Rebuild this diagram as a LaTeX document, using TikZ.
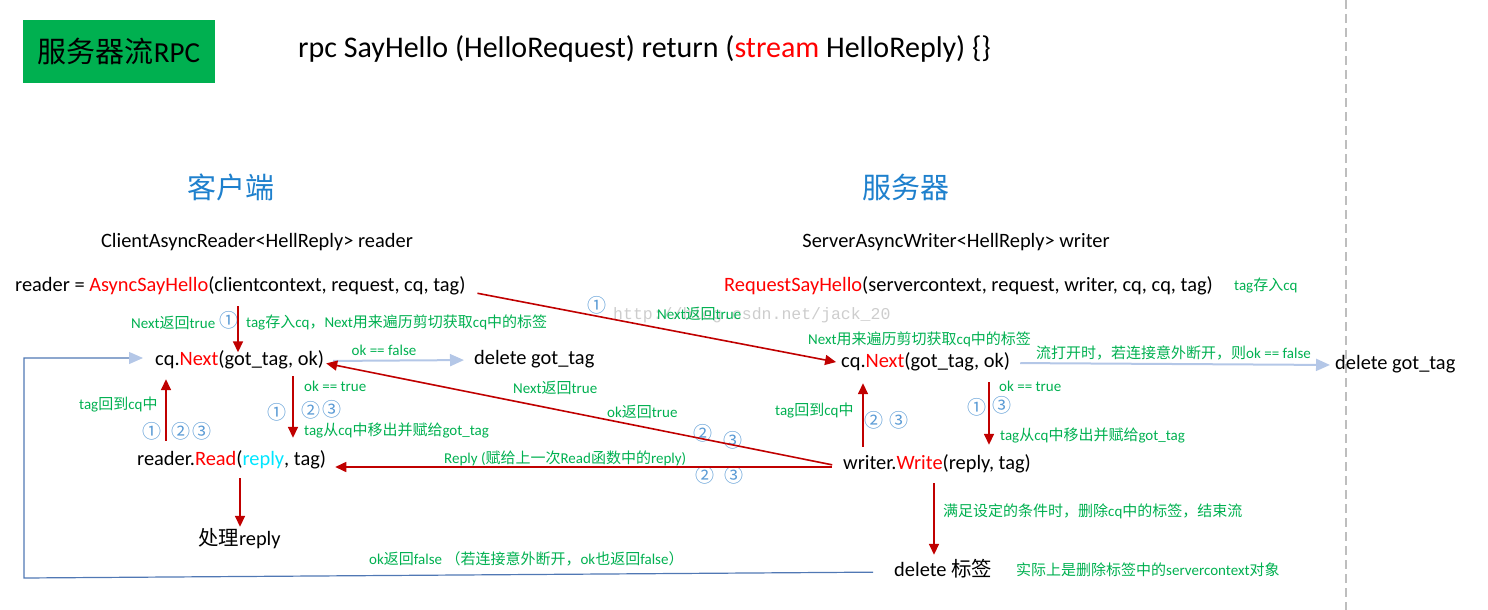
\documentclass[tikz,border=0pt]{standalone}
\usepackage{fontspec}
\setmainfont{Carlito}
\newfontfamily\cjk{Noto Sans CJK SC}
\newfontfamily\wmfont{Liberation Mono}
\usetikzlibrary{arrows.meta}
\XeTeXinterchartokenstate=1
\newXeTeXintercharclass\CJKcls
\makeatletter
\def\setcjkrange#1#2{\count@=#1\relax\loop\XeTeXcharclass\count@=\CJKcls\relax\ifnum\count@<#2\relax\advance\count@ by 1\relax\repeat}
\makeatother
\setcjkrange{"3000}{"303F}
\setcjkrange{"4E00}{"9FFF}
\setcjkrange{"FF00}{"FFEF}
\setcjkrange{"2460}{"24FF}
\XeTeXinterchartoks 0 \CJKcls = {\begingroup\cjk}
\XeTeXinterchartoks 4095 \CJKcls = {\begingroup\cjk}
\XeTeXinterchartoks \CJKcls 0 = {\endgroup}
\XeTeXinterchartoks \CJKcls 4095 = {\endgroup}
\definecolor{boxgreen}{RGB}{0,176,80}
\definecolor{tgreen}{RGB}{0,176,80}
\definecolor{darkred}{RGB}{192,0,0}
\definecolor{tred}{RGB}{255,0,0}
\definecolor{tcyan}{RGB}{0,230,255}
\definecolor{headblue}{RGB}{30,128,205}
\definecolor{circblue}{RGB}{91,155,213}
\definecolor{lightarr}{RGB}{180,199,231}
\definecolor{loopcol}{RGB}{80,120,180}
\definecolor{dashgray}{RGB}{190,190,190}
\definecolor{wmgray}{RGB}{205,205,205}
\tikzset{
  main/.style={inner sep=0pt, anchor=west, font=\fontsize{20.4}{24}\selectfont, text height=14pt, text depth=5pt},
  gtxt/.style={inner sep=0pt, anchor=west, text=tgreen, font=\fontsize{15}{18}\selectfont, text height=11pt, text depth=4pt},
  circnum/.style={inner sep=0pt, text=circblue, font=\cjk\fontsize{19}{22}\selectfont},
  heading/.style={inner sep=0pt, text=headblue, font=\fontsize{29}{32}\selectfont},
  ra/.style={draw=darkred, line width=1.6pt, -{Triangle[length=11pt,width=10pt,fill=darkred]}},
  ba/.style={draw=lightarr, line width=2pt, -{Triangle[length=14pt,width=12pt,fill=lightarr]}},
  loopline/.style={draw=loopcol, line width=1.2pt, -{Triangle[length=14pt,width=12pt,color=lightarr,fill=lightarr]}},
  dashline/.style={draw=dashgray, line width=1.5pt, dash pattern=on 9pt off 5pt},
}
\begin{document}
\begin{tikzpicture}[x=1pt,y=-1pt]
\useasboundingbox (0,0) rectangle (1488,610);
% divider
\draw[dashline] (1346,0) -- (1346,610);
% title
\node[fill=boxgreen, minimum width=192pt, minimum height=63pt, inner sep=0pt, font=\fontsize{29}{32}\selectfont] (ttl) at (119,51.5) {服务器流RPC};
\node[main, font=\fontsize{30}{34}\selectfont, text height=21pt, text depth=8pt] (rpc) at (298,51) {rpc SayHello (HelloRequest) return (\textcolor{tred}{stream} HelloReply) \{\}};
% headings
\node[heading] (hc) at (231,187) {客户端};
\node[heading] (hs) at (906,187) {服务器};
\node[main, anchor=center] (cr) at (257,243) {ClientAsyncReader<HellReply> reader};
\node[main, anchor=center] (sw) at (956,243) {ServerAsyncWriter<HellReply> writer};
% watermark
\node[inner sep=0pt, anchor=west, text=wmgray, font=\wmfont\fontsize{16.5}{18}\selectfont] (wm) at (613,315) {http://blog.csdn.net/jack\_20};
% client side
\node[main] (rd) at (15,287) {reader = \textcolor{tred}{AsyncSayHello}(clientcontext, request, cq, tag)};
\node[gtxt] (l1) at (131,325) {Next返回true};
\node[circnum] (n1) at (229,320) {①};
\node[gtxt] (l2) at (246,324) {tag存入cq，Next用来遍历剪切获取cq中的标签};
\node[main] (cqL) at (155,361) {cq.\textcolor{tred}{Next}(got\_tag, ok)};
\node[gtxt, anchor=center] (l3) at (384,352) {ok == false};
\node[main] (delL) at (474,360) {delete got\_tag};
\node[gtxt] (l4) at (304,388) {ok == true};
\node[circnum] (n2) at (277,412) {①};
\node[circnum] (n3) at (311,410) {②};
\node[circnum] (n4) at (332,409) {③};
\node[gtxt] (l5) at (304,432) {tag从cq中移出并赋给got\_tag};
\node[gtxt] (l6) at (79,406) {tag回到cq中};
\node[circnum] (n5) at (152,431) {①};
\node[circnum] (n6) at (181,431) {②};
\node[circnum] (n7) at (202,431) {③};
\node[main] (readL) at (137,461) {reader.\textcolor{tred}{Read}(\textcolor{tcyan}{reply}, tag)};
\node[main] (proc) at (198,541) {处理reply};
% middle labels
\node[circnum] (n8) at (597,305) {①};
\node[gtxt] (l7) at (657,316) {Next返回true};
\node[gtxt] (l8) at (513,390) {Next返回true};
\node[gtxt] (l9) at (607,414) {ok返回true};
\node[circnum] (n9) at (703,433) {②};
\node[circnum] (n10) at (733,440) {③};
\node[gtxt] (l10) at (444,460) {Reply (赋给上一次Read函数中的reply)};
\node[circnum] (n11) at (705,475) {②};
\node[circnum] (n12) at (734,475) {③};
\node[gtxt] (l11) at (369,561) {ok返回false （若连接意外断开，ok也返回false）};
% server side
\node[main] (rq) at (724,287) {\textcolor{tred}{RequestSayHello}(servercontext, request, writer, cq, cq, tag)};
\node[gtxt] (l12) at (1234,287) {tag存入cq};
\node[gtxt] (l13) at (808,341) {Next用来遍历剪切获取cq中的标签};
\node[main] (cqR) at (841,363) {cq.\textcolor{tred}{Next}(got\_tag, ok)};
\node[gtxt] (l14) at (1036,355) {流打开时，若连接意外断开，则ok == false};
\node[main] (delR) at (1335,365) {delete got\_tag};
\node[gtxt] (l15) at (775,412) {tag回到cq中};
\node[circnum] (n13) at (874,420) {②};
\node[circnum] (n14) at (899,420) {③};
\node[gtxt] (l16) at (999,388) {ok == true};
\node[circnum] (n15) at (977,407) {①};
\node[circnum] (n16) at (1002,405) {③};
\node[gtxt] (l17) at (1000,437) {tag从cq中移出并赋给got\_tag};
\node[main] (write) at (843,465) {writer.\textcolor{tred}{Write}(reply, tag)};
\node[gtxt] (l18) at (943,513) {满足设定的条件时，删除cq中的标签，结束流};
\node[main] (deltag) at (894,572) {delete 标签};
\node[gtxt] (l19) at (1016,572) {实际上是删除标签中的servercontext对象};
% loop back
\coordinate (lp1) at (24,578);
\coordinate (lp2) at (24,358);
\draw[loopline, shorten <=21pt, shorten >=12pt] (deltag.west) -- (lp1) -- (lp2) -- (lp2 -| cqL.west);
% client arrows
\draw[ra, shorten <=9.5pt, shorten >=-1pt] (rd.south -| 238,0) -- (cqL.north -| 238,0);
\draw[ba, shorten <=9pt, shorten >=10pt] (cqL.east) -- (delL.west);
\draw[ra, shorten <=5.5pt, shorten >=13.5pt] (cqL.south -| 293,0) -- (readL.north -| 293,0);
\draw[ra, shorten <=10.5pt, shorten >=8.5pt] (readL.north -| 166,0) -- (cqL.south -| 166,0);
\draw[ra, shorten <=7.5pt, shorten >=4.5pt] (readL.south -| 240,0) -- (proc.north -| 240,0);
% cross arrows
\draw[ra, shorten <=12pt, shorten >=5pt] ([yshift=-4pt]rd.east) -- (cqR.west);
\draw[ra, shorten <=11pt, shorten >=2pt] ([yshift=-2pt]write.west) -- ([yshift=-2pt]cqL.east);
\draw[ra, shorten <=11pt, shorten >=9pt] ([yshift=-2pt]write.west) -- ([yshift=-2pt]write.west -| readL.east);
% server arrows
\draw[ba, shorten <=10pt, shorten >=5pt] (cqR.east) -- (delR.west);
\draw[ra, shorten <=8.5pt, shorten >=10.5pt] (write.north -| 863,0) -- (cqR.south -| 863,0);
\draw[ra, shorten <=9.5pt, shorten >=10.5pt] (cqR.south -| 989,0) -- (write.north -| 989,0);
\draw[ra, shorten <=8.5pt, shorten >=7.5pt] (write.south -| 934,0) -- (deltag.north -| 934,0);
\end{tikzpicture}
\end{document}
